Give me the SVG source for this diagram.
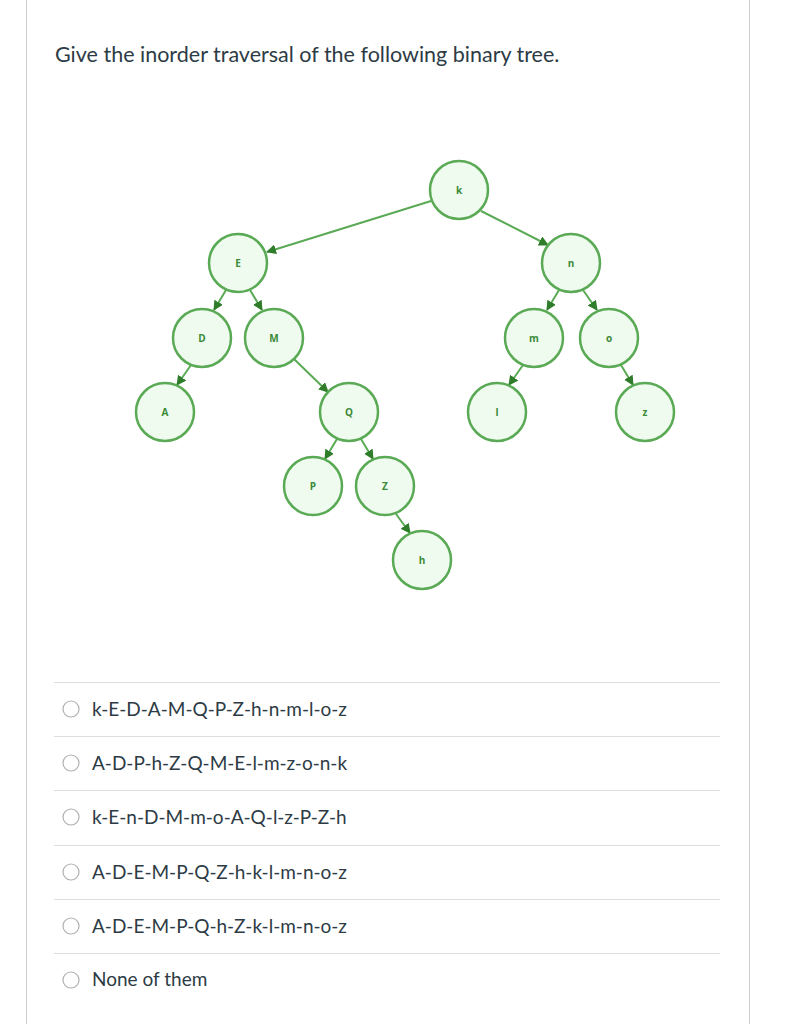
<svg xmlns="http://www.w3.org/2000/svg" width="789" height="1024" viewBox="0 0 789 1024">
<style>
.n circle{fill:#effbee;stroke:#5aaa55;stroke-width:2.5}
.n text{font-family:"Open Sans",sans-serif;font-weight:bold;font-size:10px;fill:#3b8a38;text-anchor:middle}
.e line{stroke:#5aaa55;stroke-width:2;marker-end:url(#ar)}
.sep{stroke:#dddddd;stroke-width:1}
.opt{font-family:Lato,"Noto Sans",sans-serif;font-size:19px;fill:#2d3b45}
.rb{fill:#fff;stroke:#b0b0b0;stroke-width:1.2}
</style>
<defs><marker id="ar" markerWidth="10" markerHeight="10" refX="9" refY="5" orient="auto" markerUnits="userSpaceOnUse"><path d="M0,0L10,5L0,10z" fill="#2f7d2b"/></marker></defs>
<rect width="789" height="1024" fill="#fff"/>
<line x1="26.5" y1="0" x2="26.5" y2="1024" stroke="#c7cdd1"/>
<line x1="749.5" y1="0" x2="749.5" y2="1024" stroke="#c7cdd1"/>
<text x="55" y="62" font-family="Lato,'Noto Sans',sans-serif" font-size="21.5" fill="#2d3b45">Give the inorder traversal of the following binary tree.</text>
<g class="e">
<line x1="431" y1="201" x2="267" y2="252"/>
<line x1="481" y1="211" x2="548" y2="245"/>
<line x1="226" y1="290" x2="214" y2="310"/>
<line x1="250" y1="290" x2="262" y2="310"/>
<line x1="191" y1="365" x2="177" y2="385"/>
<line x1="294" y1="359" x2="328" y2="392"/>
<line x1="337" y1="439" x2="325" y2="459"/>
<line x1="361" y1="439" x2="373" y2="459"/>
<line x1="396" y1="514" x2="410" y2="533"/>
<line x1="559" y1="290" x2="547" y2="310"/>
<line x1="583" y1="290" x2="597" y2="310"/>
<line x1="523" y1="365" x2="509" y2="385"/>
<line x1="621" y1="365" x2="633" y2="385"/>
</g>
<g id="k" class="n"><circle cx="459" cy="190" r="29"/><text x="459" y="194">k</text></g>
<g id="E" class="n"><circle cx="238" cy="263" r="29"/><text x="238" y="267">E</text></g>
<g id="D" class="n"><circle cx="202" cy="338" r="29"/><text x="202" y="342">D</text></g>
<g id="M" class="n"><circle cx="274" cy="338" r="29"/><text x="274" y="342">M</text></g>
<g id="A" class="n"><circle cx="165" cy="412" r="29"/><text x="165" y="416">A</text></g>
<g id="Q" class="n"><circle cx="349" cy="412" r="29"/><text x="349" y="416">Q</text></g>
<g id="P" class="n"><circle cx="313" cy="486" r="29"/><text x="313" y="490">P</text></g>
<g id="Z" class="n"><circle cx="385" cy="486" r="29"/><text x="385" y="490">Z</text></g>
<g id="h" class="n"><circle cx="422" cy="560" r="29"/><text x="422" y="564">h</text></g>
<g id="n" class="n"><circle cx="571" cy="263" r="29"/><text x="571" y="267">n</text></g>
<g id="m" class="n"><circle cx="534" cy="338" r="29"/><text x="534" y="342">m</text></g>
<g id="o" class="n"><circle cx="609" cy="338" r="29"/><text x="609" y="342">o</text></g>
<g id="l" class="n"><circle cx="497" cy="412" r="29"/><text x="497" y="416">l</text></g>
<g id="z" class="n"><circle cx="645" cy="412" r="29"/><text x="645" y="416">z</text></g>
<g id="options">
<line class="sep" x1="54" y1="682.5" x2="720" y2="682.5"/>
<line class="sep" x1="54" y1="736.5" x2="720" y2="736.5"/>
<line class="sep" x1="54" y1="790.5" x2="720" y2="790.5"/>
<line class="sep" x1="54" y1="845.5" x2="720" y2="845.5"/>
<line class="sep" x1="54" y1="899.5" x2="720" y2="899.5"/>
<line class="sep" x1="54" y1="953.5" x2="720" y2="953.5"/>
<circle class="rb" cx="71" cy="709" r="8"/><text class="opt" x="92" y="716">k-E-D-A-M-Q-P-Z-h-n-m-l-o-z</text>
<circle class="rb" cx="71" cy="763" r="8"/><text class="opt" x="92" y="770">A-D-P-h-Z-Q-M-E-l-m-z-o-n-k</text>
<circle class="rb" cx="71" cy="817" r="8"/><text class="opt" x="92" y="824">k-E-n-D-M-m-o-A-Q-l-z-P-Z-h</text>
<circle class="rb" cx="71" cy="872" r="8"/><text class="opt" x="92" y="879">A-D-E-M-P-Q-Z-h-k-l-m-n-o-z</text>
<circle class="rb" cx="71" cy="926" r="8"/><text class="opt" x="92" y="933">A-D-E-M-P-Q-h-Z-k-l-m-n-o-z</text>
<circle class="rb" cx="71" cy="980" r="8"/><text class="opt" x="92" y="986">None of them</text>
</g>
</svg>
